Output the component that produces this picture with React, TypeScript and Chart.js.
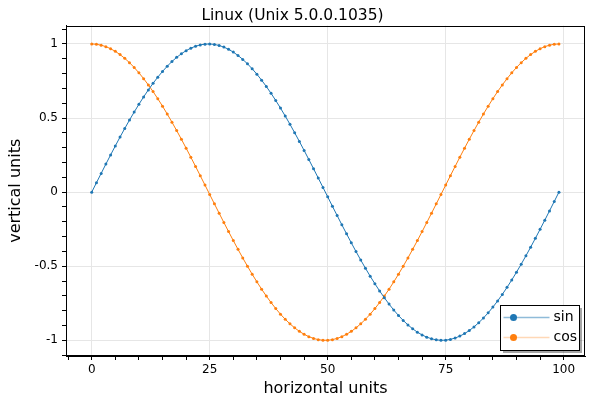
import React, { useEffect, useRef } from "react";
import { Chart, registerables } from "chart.js";

Chart.register(...registerables);

const TITLE = "Linux (Unix 5.0.0.1035)";
const X_TITLE = "horizontal units";
const Y_TITLE = "vertical units";
const SERIES_NAMES = ["sin", "cos"];
const SERIES_COLORS = ["#1f77b4", "#ff7f0e"];
const LEGEND_LINE_COLORS = ["rgba(31,119,180,0.5)", "rgba(255,127,14,0.3)"];

const X_VALUES = [
  0, 1, 2, 3, 4, 5, 6, 7, 8, 9, 10, 11, 12, 13, 14, 15, 16, 17, 18, 19, 20, 21, 22, 23, 24,
  25, 26, 27, 28, 29, 30, 31, 32, 33, 34, 35, 36, 37, 38, 39, 40, 41, 42, 43, 44, 45, 46, 47, 48, 49,
  50, 51, 52, 53, 54, 55, 56, 57, 58, 59, 60, 61, 62, 63, 64, 65, 66, 67, 68, 69, 70, 71, 72, 73, 74,
  75, 76, 77, 78, 79, 80, 81, 82, 83, 84, 85, 86, 87, 88, 89, 90, 91, 92, 93, 94, 95, 96, 97, 98, 99,
];

const SIN_VALUES = [
  0, 0.0634, 0.1266, 0.1893, 0.2511, 0.312, 0.3717, 0.4298, 0.4862, 0.5406,
  0.5929, 0.6428, 0.6901, 0.7346, 0.7761, 0.8146, 0.8497, 0.8815, 0.9096, 0.9342,
  0.9549, 0.9718, 0.9848, 0.9938, 0.9989, 0.9999, 0.9969, 0.9898, 0.9788, 0.9639,
  0.945, 0.9224, 0.896, 0.866, 0.8326, 0.7958, 0.7557, 0.7127, 0.6668, 0.6182,
  0.5671, 0.5137, 0.4582, 0.4009, 0.342, 0.2817, 0.2203, 0.158, 0.0951, 0.0317,
  -0.0317, -0.0951, -0.158, -0.2203, -0.2817, -0.342, -0.4009, -0.4582, -0.5137, -0.5671,
  -0.6182, -0.6668, -0.7127, -0.7557, -0.7958, -0.8326, -0.866, -0.896, -0.9224, -0.945,
  -0.9639, -0.9788, -0.9898, -0.9969, -0.9999, -0.9989, -0.9938, -0.9848, -0.9718, -0.9549,
  -0.9342, -0.9096, -0.8815, -0.8497, -0.8146, -0.7761, -0.7346, -0.6901, -0.6428, -0.5929,
  -0.5406, -0.4862, -0.4298, -0.3717, -0.312, -0.2511, -0.1893, -0.1266, -0.0634, 0,
];

const COS_VALUES = [
  1, 0.998, 0.992, 0.9819, 0.968, 0.9501, 0.9284, 0.9029, 0.8738, 0.8413,
  0.8053, 0.766, 0.7237, 0.6785, 0.6306, 0.5801, 0.5272, 0.4722, 0.4154, 0.3569,
  0.2969, 0.2357, 0.1736, 0.1108, 0.0476, -0.0159, -0.0792, -0.1423, -0.2048, -0.2665,
  -0.3271, -0.3863, -0.4441, -0.5, -0.5539, -0.6056, -0.6549, -0.7015, -0.7453, -0.7861,
  -0.8237, -0.858, -0.8888, -0.9161, -0.9397, -0.9595, -0.9754, -0.9874, -0.9955, -0.9995,
  -0.9995, -0.9955, -0.9874, -0.9754, -0.9595, -0.9397, -0.9161, -0.8888, -0.858, -0.8237,
  -0.7861, -0.7453, -0.7015, -0.6549, -0.6056, -0.5539, -0.5, -0.4441, -0.3863, -0.3271,
  -0.2665, -0.2048, -0.1423, -0.0792, -0.0159, 0.0476, 0.1108, 0.1736, 0.2357, 0.2969,
  0.3569, 0.4154, 0.4722, 0.5272, 0.5801, 0.6306, 0.6785, 0.7237, 0.766, 0.8053,
  0.8413, 0.8738, 0.9029, 0.9284, 0.9501, 0.968, 0.9819, 0.992, 0.998, 1,
];

const X_MAJOR_TICKS = [0, 25, 50, 75, 100];
const Y_MAJOR_TICKS = [-1, -0.5, 0, 0.5, 1];

const FONT = "'DejaVu Sans', sans-serif";
const GRID_COLOR = "#e6e6e6";

const isMajor = (v: number, majors: number[]) => majors.some((m) => Math.abs(m - v) < 1e-6);

const framePlugin = {
  id: "frameAndLegend",
  afterDraw(chart: any) {
    const { ctx, chartArea } = chart;
    ctx.save();
    ctx.strokeStyle = "#000";
    ctx.lineWidth = 1;
    ctx.strokeRect(
      Math.round(chartArea.left) + 0.5,
      Math.round(chartArea.top) + 0.5,
      Math.round(chartArea.right - chartArea.left) - 1,
      Math.round(chartArea.bottom - chartArea.top) - 1
    );
    const w = 79;
    const h = 45;
    const x = Math.round(chartArea.right - 6 - w) + 0.5;
    const y = Math.round(chartArea.bottom - 6 - h) + 0.5;
    ctx.fillStyle = "rgba(0,0,0,0.35)";
    ctx.fillRect(x + 2.5, y + 2.5, w, h);
    ctx.fillStyle = "#fff";
    ctx.fillRect(x, y, w, h);
    ctx.strokeStyle = "#000";
    ctx.strokeRect(x, y, w, h);
    chart.data.datasets.forEach((ds: any, i: number) => {
      const cy = y + 12 + i * 20;
      ctx.strokeStyle = LEGEND_LINE_COLORS[i];
      ctx.lineWidth = 1.5;
      ctx.beginPath();
      ctx.moveTo(x + 3, cy);
      ctx.lineTo(x + 49, cy);
      ctx.stroke();
      ctx.fillStyle = ds.borderColor;
      ctx.beginPath();
      ctx.arc(x + 13, cy, 3.5, 0, Math.PI * 2);
      ctx.fill();
      ctx.fillStyle = "#000";
      ctx.font = `14px ${FONT}`;
      ctx.textBaseline = "middle";
      ctx.textAlign = "left";
      ctx.fillText(ds.label, x + 53, cy);
    });
    ctx.restore();
  },
};

export default function App() {
  const ref = useRef<HTMLCanvasElement>(null);

  useEffect(() => {
    if (!ref.current) return;
    const series = [SIN_VALUES, COS_VALUES];
    const chart = new Chart(ref.current, {
      type: "line",
      data: {
        datasets: series.map((vals, i) => ({
          label: SERIES_NAMES[i],
          data: vals.map((v, k) => ({ x: X_VALUES[k], y: v })),
          borderColor: SERIES_COLORS[i],
          backgroundColor: SERIES_COLORS[i],
          borderWidth: 1,
          pointRadius: 1.5,
          pointBorderWidth: 0,
          pointHoverRadius: 1.5,
          fill: false,
          tension: 0,
        })),
      },
      options: {
        animation: false,
        responsive: false,
        maintainAspectRatio: false,
        layout: { padding: { left: 0, right: 15, top: 0, bottom: 0 } },
        plugins: {
          legend: { display: false },
          tooltip: { enabled: false },
          title: {
            display: true,
            text: TITLE,
            color: "#000",
            font: { family: FONT, size: 15.5, weight: "normal", lineHeight: 1.2 },
            padding: { top: 7, bottom: 0 },
          },
        },
        scales: {
          x: {
            type: "linear",
            min: -5.45,
            max: 104.52,
            afterFit: (scale: any) => {
              scale.height = 44;
            },
            border: { display: true, color: "#000", width: 1 },
            grid: {
              drawTicks: true,
              tickLength: 4,
              tickColor: "#000",
              color: (c: any) => (c.tick && isMajor(c.tick.value, X_MAJOR_TICKS) ? GRID_COLOR : "rgba(0,0,0,0)"),
            },
            ticks: {
              stepSize: 5,
              includeBounds: false,
              autoSkip: false,
              maxRotation: 0,
              minRotation: 0,
              color: "#000",
              padding: 3,
              font: { family: FONT, size: 12 },
              callback: (v: any) => (isMajor(Number(v), X_MAJOR_TICKS) ? String(Math.round(Number(v))) : ""),
            },
            title: {
              display: true,
              text: X_TITLE,
              color: "#000",
              font: { family: FONT, size: 16 },
              padding: { top: 0, bottom: 2 },
            },
          },
          y: {
            type: "linear",
            min: -1.106,
            max: 1.124,
            afterFit: (scale: any) => {
              scale.width = 66;
            },
            border: { display: true, color: "#000", width: 1 },
            grid: {
              drawTicks: true,
              tickLength: 4,
              tickColor: "#000",
              color: (c: any) => (c.tick && isMajor(c.tick.value, Y_MAJOR_TICKS) ? GRID_COLOR : "rgba(0,0,0,0)"),
            },
            ticks: {
              stepSize: 0.1,
              includeBounds: false,
              autoSkip: false,
              color: "#000",
              padding: 4,
              font: { family: FONT, size: 12 },
              callback: (v: any) => {
                const n = Number(v);
                if (!isMajor(n, Y_MAJOR_TICKS)) return "";
                const r = Math.round(n * 2) / 2;
                return String(r);
              },
            },
            title: {
              display: true,
              text: Y_TITLE,
              color: "#000",
              font: { family: FONT, size: 16 },
              padding: { top: 6, bottom: 0 },
            },
          },
        },
      },
      plugins: [framePlugin],
    });
    return () => chart.destroy();
  }, []);

  return (
    <div style={{ position: "fixed", left: 0, top: 0, width: 600, height: 400, background: "#fff" }}>
      <canvas ref={ref} width={600} height={400} style={{ width: 600, height: 400 }} />
    </div>
  );
}
